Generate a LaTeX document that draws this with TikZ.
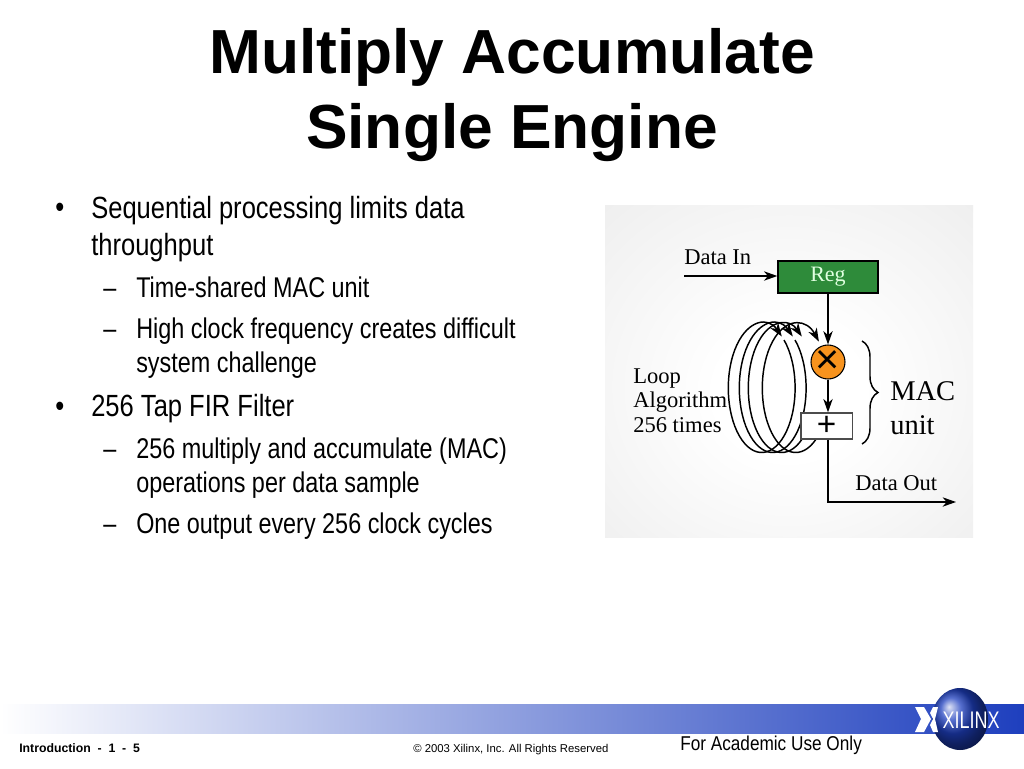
\documentclass[tikz,border=0pt]{standalone}
\usepackage{fontspec}
\usetikzlibrary{arrows.meta,decorations.pathreplacing,shapes.geometric}
\setmainfont{Liberation Sans}
\newfontfamily\bodyfont[FakeStretch=0.833]{Liberation Sans}
\newfontfamily\subfont[FakeStretch=0.82]{Liberation Sans}
\newfontfamily\footfont[FakeStretch=0.86]{Liberation Sans}
\newfontfamily\logofont[FakeStretch=0.75]{Liberation Sans}
\newfontfamily\diagfont{Liberation Serif}
\definecolor{panelgrey}{HTML}{E2E2E2}
\definecolor{regfill}{HTML}{2E8B3A}
\definecolor{mulfill}{HTML}{F7931E}
\definecolor{bandmid}{HTML}{8C9FE0}
\definecolor{banddark}{HTML}{1E3FBE}
\pgfdeclareradialshading{panelshade}{\pgfpoint{0bp}{-4bp}}{%
  color(0bp)=(white); color(10bp)=(white); color(58bp)=(panelgrey)}
\tikzset{
  title/.style={inner sep=0pt,font=\fontsize{46.7}{56}\selectfont\bfseries},
  bulletA/.style={inner sep=0pt,anchor=base west,font=\fontsize{23}{28}\bodyfont},
  bulletB/.style={inner sep=0pt,anchor=base west,font=\fontsize{21.4}{25}\subfont},
  difftext/.style={inner sep=0pt,font=\fontsize{16.9}{18.4}\diagfont},
  flow/.style={->,line width=1.1pt,>={Stealth[length=10pt,width=7pt,inset=3pt]}},
}
\begin{document}
\begin{tikzpicture}[x=0.75pt,y=-0.75pt]
  \useasboundingbox (0,0) rectangle (1024,768);
  \fill[white] (0,0) rectangle (1024,768);
  % title
  \node[title] (line1) at (512,57) {Multiply Accumulate};
  \node[title] (line2) at (512,133) {Single Engine};
  % text column
  \node[bulletA] (dot1) at (55,217) {•};
  \node[bulletA] (t1) at (91,218) {Sequential processing limits data};
  \node[bulletA] (t2) at (91,255) {throughput};
  \node[bulletB] (dash1) at (103,297) {–};
  \node[bulletB] (t3) at (136,297) {Time-shared MAC unit};
  \node[bulletB] (dash2) at (103,338) {–};
  \node[bulletB] (t4) at (136,338) {High clock frequency creates difficult};
  \node[bulletB] (t5) at (136,372) {system challenge};
  \node[bulletA] (dot2) at (55,416) {•};
  \node[bulletA] (t6) at (91,416) {256 Tap FIR Filter};
  \node[bulletB] (dash3) at (103,458) {–};
  \node[bulletB] (t7) at (136,458) {256 multiply and accumulate (MAC)};
  \node[bulletB] (t8) at (136,492) {operations per data sample};
  \node[bulletB] (dash4) at (103,533) {–};
  \node[bulletB] (t9) at (136,533) {One output every 256 clock cycles};
  % panel
  \shade[shading=panelshade] (605,205) rectangle (973,537);
  \fill[white] (807,330) rectangle (840,445);
  % loops
  \foreach \cx/\sa/\ea in {761.7/-48/307,772.7/-48/307,781.7/52/307,795.7/52/314}
    \draw[flow] (\cx,388) ++(\sa:33.4 and 64.5) arc[start angle=\sa,end angle=\ea,x radius=33.4,y radius=64.5];
  % blocks
  \node[draw=black,line width=1pt,fill=regfill,minimum width=75pt,minimum height=24pt,inner sep=0pt,
    text=green!12,font=\fontsize{16.5}{18}\diagfont] (reg) at (828,277) {Reg};
  \node[circle,draw=black,line width=0.8pt,fill=mulfill,minimum size=25.5pt,inner sep=0pt,
    font=\fontsize{31}{31}\selectfont] (mul) at (828,362) {×};
  \node[draw=black!70,line width=1pt,fill=white,minimum width=38.5pt,minimum height=19.5pt,inner sep=0pt,
    font=\fontsize{25}{25}\selectfont] (add) at (826.5,426) {+};
  % labels
  \node[difftext,anchor=base west] (datain) at (684,264) {Data In};
  \node[difftext,anchor=base west] (dataout) at (855,490) {Data Out};
  \node[difftext,anchor=west,align=left] (looptext) at (633,400.5) {Loop\\Algorithm\\256 times};
  \node[inner sep=0pt,anchor=west,align=left,font=\fontsize{21.4}{25.5}\diagfont] (mactext) at (890,408) {MAC\\unit};
  % connectors
  \coordinate (infree) at (684,276);
  \coordinate (outfree) at (956,502);
  \draw[flow] (infree) -- (reg.west |- infree);
  \draw[flow] (reg) -- (mul);
  \draw[flow] (mul) -- (add.north -| mul);
  \draw[flow] (add.south -| mul) |- (outfree);
  \coordinate (bracetop) at (862,341);
  \coordinate (bracebot) at (862,444);
  \draw[line width=1.1pt,decorate,decoration={brace,amplitude=12pt}] (bracetop) -- (bracebot);
  % footer
  \shade[left color=white,middle color=bandmid,right color=banddark] (0,704) rectangle (1024,733);
  \shade[ball color=banddark] (960,719) ellipse (28 and 31);
  \fill[white] (915,707) -- (924,707) -- (931,719) -- (924,732) -- (915,732) -- (921,719) -- cycle;
  \fill[white] (938,707) -- (933,707) -- (930,713) -- (933,719) -- (930,725) -- (933,732) -- (938,732) -- (935,719) -- cycle;
  \node[inner sep=0pt,text=white,font=\fontsize{18}{18}\logofont] (logo) at (971,720) {XILINX};
  \node[inner sep=0pt,anchor=base west,font=\fontsize{9.2}{11}\selectfont\bfseries] (foot1) at (19,752) {Introduction\ \ -\ \ 1\ \ -\ \ 5};
  \node[inner sep=0pt,anchor=base west,font=\fontsize{8.5}{10}\selectfont] (foot2) at (413,752) {© 2003 Xilinx, Inc. All Rights Reserved};
  \node[inner sep=0pt,anchor=base west,font=\fontsize{15}{16}\footfont] (foot3) at (680,750) {For Academic Use Only};
\end{tikzpicture}
\end{document}
